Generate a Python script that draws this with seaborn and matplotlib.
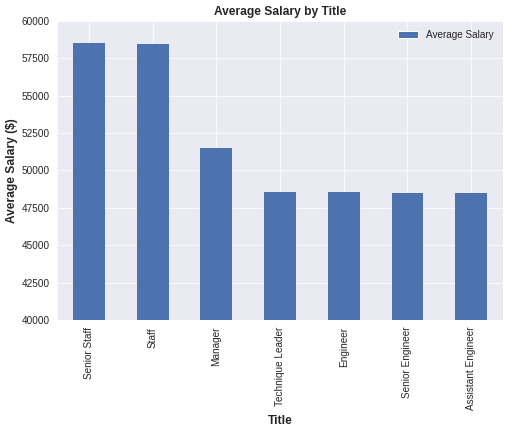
import matplotlib
matplotlib.use("Agg")
import matplotlib.pyplot as plt
import seaborn as sns
import pandas as pd
from matplotlib.patches import Patch

titles = ["Senior Staff", "Staff", "Manager", "Technique Leader", "Engineer",
          "Senior Engineer", "Assistant Engineer"]
avg_salary = [58550, 58465, 51531, 48583, 48535, 48507, 48493]
yticks = [40000, 42500, 45000, 47500, 50000, 52500, 55000, 57500, 60000]

df = pd.DataFrame({"Title": titles, "Average Salary": avg_salary})

sns.set_style("darkgrid")
plt.rcParams["font.family"] = ["Liberation Sans", "DejaVu Sans"]

fig = plt.figure(figsize=(510 / 72, 432 / 72), dpi=72)
ax = fig.add_axes([57 / 510, 112 / 432, 446 / 510, 299 / 432])

bar_color = "#4C72B0"
sns.barplot(data=df, x="Title", y="Average Salary", color=bar_color,
            width=0.5, saturation=1, ax=ax, order=titles, linewidth=0,
            edgecolor=bar_color)
ax.xaxis.grid(True)
ax.set_xlim(-0.5, len(titles) - 0.5)
ax.set_ylim(40000, 60000)
ax.set_yticks(yticks)
ax.set_yticklabels([str(v) for v in yticks], fontsize=10, color="0.15")
ax.set_xticks(range(len(titles)))
ax.set_xticklabels(titles, rotation=90, fontsize=10, color="0.15")
ax.tick_params(axis="both", length=0, pad=7)

ax.set_title("Average Salary by Title", fontsize=12, fontweight="bold", color="0.15")
ax.set_xlabel("Title", fontsize=12, fontweight="bold", color="0.15")
ax.set_ylabel("Average Salary ($)", fontsize=12, fontweight="bold", color="0.15")

ax.legend(handles=[Patch(facecolor=bar_color, label="Average Salary")],
          loc="upper right", frameon=False, fontsize=10)

fig.savefig("out.png", dpi=72)
